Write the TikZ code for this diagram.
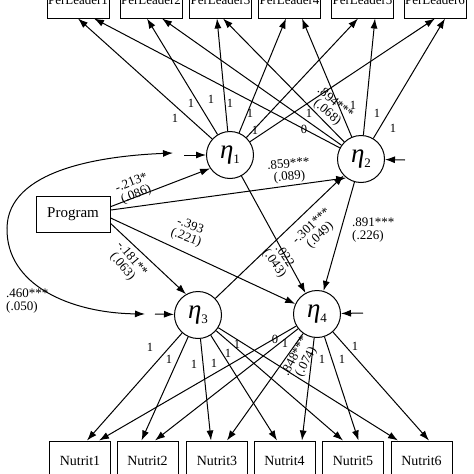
\documentclass[tikz,border=0pt]{standalone}
\usepackage{fontspec}
\setmainfont{Liberation Serif}
\usetikzlibrary{arrows.meta,calc}
\begin{document}
\begin{tikzpicture}[x=1pt,y=-1pt,
  box/.style={draw,line width=1pt,minimum width=62pt,minimum height=36pt,inner sep=0pt,font=\fontsize{13}{14}\selectfont},
  nbox/.style={draw,line width=1pt,minimum width=61pt,minimum height=40pt,inner sep=0pt,font=\fontsize{14}{15}\selectfont},
  lat/.style={draw,circle,line width=1pt,minimum size=47pt,inner sep=0pt,font=\fontsize{27}{28}\selectfont},
  arr/.style={line width=1pt,-{Latex[length=10pt,width=7pt]}},
  lab/.style={font=\fontsize{13}{12.5}\selectfont,align=center,inner sep=0pt},
  one/.style={font=\fontsize{12.5}{13}\selectfont,inner sep=0pt}]
\useasboundingbox (0,0) rectangle (474,474);
% top boxes
\node[box] (pl1) at (78,0) {PerLeader1};
\node[box] (pl2) at (151,0) {PerLeader2};
\node[box] (pl3) at (220.5,0) {PerLeader3};
\node[box] (pl4) at (289.5,0) {PerLeader4};
\node[box] (pl5) at (362.5,0) {PerLeader5};
\node[box] (pl6) at (435,0) {PerLeader6};
% bottom boxes
\node[nbox] (n1) at (80,461) {Nutrit1};
\node[nbox] (n2) at (147.5,461) {Nutrit2};
\node[nbox] (n3) at (217,461) {Nutrit3};
\node[nbox] (n4) at (284.5,461) {Nutrit4};
\node[nbox] (n5) at (353,461) {Nutrit5};
\node[nbox] (n6) at (421.5,461) {Nutrit6};
% latent
\node[lat] (eta1) at (230,155) {{\itshape η}\raisebox{-5pt}{\fontsize{13}{13}\selectfont 1}};
\node[lat] (eta2) at (361,159) {{\itshape η}\raisebox{-5pt}{\fontsize{13}{13}\selectfont 2}};
\node[lat] (eta3) at (198,315) {{\itshape η}\raisebox{-5pt}{\fontsize{13}{13}\selectfont 3}};
\node[lat] (eta4) at (317,314) {{\itshape η}\raisebox{-5pt}{\fontsize{13}{13}\selectfont 4}};
\node[draw,line width=1pt,minimum width=74pt,minimum height=36pt,inner sep=0pt,font=\fontsize{15}{16}\selectfont] (prog) at (73,214) {Program};
% error coordinates
\coordinate (e1) at (184,155);
\coordinate (e2) at (405,160);
\coordinate (e3) at (155,314);
\coordinate (e4) at (363,313);
\coordinate (c1) at (173,153);
\coordinate (c3) at (145,314);
% loadings
\foreach \b/\s in {pl1/0,pl2/-4,pl3/-3.5,pl4/-3.5,pl5/-4.5,pl6/0}
  \draw[arr] (eta1) -- ([xshift=\s pt]\b.south);
\foreach \b/\s in {pl1/16,pl2/11,pl3/2.5,pl4/12.5,pl5/12.5,pl6/10}
  \draw[arr] (eta2) -- ([xshift=\s pt]\b.south);
\foreach \b/\s in {n1/7,n2/-6,n3/-6,n4/-7.5,n5/-10,n6/-23.5}
  \draw[arr] (eta3) -- ([xshift=\s pt]\b.north);
\foreach \b/\s in {n1/19,n2/7.5,n3/10,n4/17.5,n5/5.5,n6/7.5}
  \draw[arr] (eta4) -- ([xshift=\s pt]\b.north);
% structural paths
\draw[arr] (prog.11) -- (eta1.214);
\draw[arr] (prog.6) -- (eta2.232);
\draw[arr] (prog.-6) -- (eta4);
\draw[arr] (prog.-14) -- (eta3.120);
\draw[arr] (eta1) -- (eta4);
\draw[arr] (eta2) -- (eta4);
\draw[arr] (eta3) -- (eta2);
% disturbances
\draw[arr] (e1) -- (eta1);
\draw[arr] (e2) -- (eta2);
\draw[arr] (e3) -- (eta3);
\draw[arr] (e4) -- (eta4);
\draw[line width=1pt,{Latex[length=10pt,width=7pt]}-{Latex[length=10pt,width=7pt]}] (c1) .. controls (100,156) and (8,170) .. (7,228) .. controls (6,285) and (70,313) .. (c3);
% coefficient labels
\node[lab,rotate=22] (k1) at (134,189) {-.213*\\(.086)};
\node[lab,rotate=5] (k2) at (289,171) {.859***\\(.089)};
\node[lab,rotate=-20] (k3) at (188,232) {-.393\\(.221)};
\node[lab,rotate=-50] (k4) at (127,263) {-.181**\\(.063)};
\node[lab,rotate=43] (k5) at (316,231) {-.301***\\(.049)};
\node[lab,rotate=-55] (k6) at (279,260) {.022\\(.043)};
\node[lab,align=left,anchor=west] (k7) at (352,230) {.891***\\(.226)};
\node[lab,align=left,anchor=west] (k8) at (6,301) {.460***\\(.050)};
\node[lab,rotate=-40] (k9) at (331,108) {.894***\\(.068)};
\node[lab,rotate=62] (k10) at (301,359) {.848***\\(.074)};
% fixed loadings
\node[one] (o1) at (175,118) {1};
\node[one] (o2) at (191,103) {1};
\node[one] (o3) at (211,99) {1};
\node[one] (o4) at (230,103) {1};
\node[one] (o5) at (250,113) {1};
\node[one] (o6) at (255,130) {1};
\node[one] (o7) at (304,129) {0};
\node[one] (o8) at (309,113) {1};
\node[one] (o9) at (353,105) {1};
\node[one] (o10) at (377,113) {1};
\node[one] (o11) at (393,128) {1};
\node[one] (u1) at (150,347) {1};
\node[one] (u2) at (169,359) {1};
\node[one] (u3) at (194,364) {1};
\node[one] (u4) at (214,363) {1};
\node[one] (u5) at (228,353) {1};
\node[one] (u6) at (237,344) {1};
\node[one] (u7) at (275,339) {0};
\node[one] (u8) at (285,343) {1};
\node[one] (u9) at (322,359) {1};
\node[one] (u10) at (342,359) {1};
\node[one] (u11) at (355,346) {1};
\end{tikzpicture}
\end{document}
